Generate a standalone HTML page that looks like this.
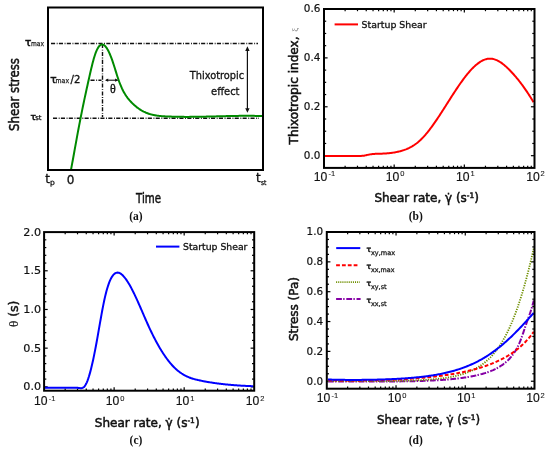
<!DOCTYPE html><html><head><meta charset="utf-8"><style>html,body{margin:0;padding:0;background:#fff;}svg{display:block;}</style></head><body><svg width="550" height="450" viewBox="0 0 550 450">
<style>text{stroke:#111;stroke-width:0.3px;}text.ns{stroke:none;}text.t{stroke-width:0.5px;}</style>
<rect width="550" height="450" fill="#fff"/>
<line x1="51" y1="43.5" x2="258" y2="43.5" stroke="#111" stroke-width="1.4" stroke-dasharray="4.1 1.6 0.9 1.3"/>
<line x1="53" y1="118.3" x2="259" y2="118.3" stroke="#111" stroke-width="1.4" stroke-dasharray="4.1 1.6 0.9 1.3"/>
<line x1="102.5" y1="44" x2="102.5" y2="117" stroke="#111" stroke-width="1.4" stroke-dasharray="4.1 1.6 0.9 1.3"/>
<line x1="90.5" y1="80.2" x2="101.5" y2="80.2" stroke="#111" stroke-width="1.4" stroke-dasharray="4.1 1.6 0.9 1.3"/>
<path d="M70.80,170.71 L71.44,167.34 L72.08,163.92 L72.72,160.46 L73.36,156.96 L74.00,153.45 L74.64,149.92 L75.28,146.39 L75.92,142.87 L76.56,139.36 L77.19,135.88 L77.83,132.44 L78.47,129.03 L79.11,125.67 L79.75,122.34 L80.39,119.05 L81.03,115.80 L81.67,112.59 L82.31,109.42 L82.95,106.29 L83.59,103.20 L84.23,100.16 L84.87,97.15 L85.51,94.17 L86.15,91.23 L86.79,88.31 L87.43,85.42 L88.07,82.55 L88.71,79.70 L89.34,76.87 L89.98,74.06 L90.62,71.28 L91.26,68.56 L91.90,65.91 L92.54,63.35 L93.18,60.91 L93.82,58.60 L94.46,56.45 L95.10,54.47 L95.74,52.68 L96.38,51.08 L97.02,49.66 L97.66,48.43 L98.30,47.37 L98.94,46.49 L99.58,45.78 L100.22,45.23 L100.85,44.84 L101.49,44.61 L102.13,44.53 L102.77,44.60 L103.41,44.81 L104.05,45.17 L104.69,45.66 L105.33,46.29 L105.97,47.04 L106.61,47.92 L107.25,48.91 L107.89,50.03 L108.53,51.25 L109.17,52.58 L109.81,54.02 L110.45,55.55 L111.09,57.17 L111.73,58.89 L112.37,60.68 L113.00,62.56 L113.64,64.51 L114.28,66.51 L114.92,68.55 L115.56,70.61 L116.20,72.66 L116.84,74.69 L117.48,76.69 L118.12,78.62 L118.76,80.47 L119.40,82.23 L120.04,83.90 L120.68,85.48 L121.32,86.97 L121.96,88.38 L122.60,89.71 L123.24,90.97 L123.88,92.15 L124.52,93.28 L125.15,94.34 L125.79,95.34 L126.43,96.29 L127.07,97.19 L127.71,98.05 L128.35,98.86 L128.99,99.64 L129.63,100.39 L130.27,101.10 L130.91,101.79 L131.55,102.46 L132.19,103.11 L132.83,103.74 L133.47,104.35 L134.11,104.93 L134.75,105.50 L135.39,106.05 L136.03,106.58 L136.66,107.10 L137.30,107.59 L137.94,108.07 L138.58,108.53 L139.22,108.97 L139.86,109.39 L140.50,109.80 L141.14,110.19 L141.78,110.57 L142.42,110.93 L143.06,111.27 L143.70,111.60 L144.34,111.91 L144.98,112.21 L145.62,112.50 L146.26,112.77 L146.90,113.02 L147.54,113.27 L148.18,113.50 L148.81,113.72 L149.45,113.93 L150.09,114.12 L150.73,114.31 L151.37,114.48 L152.01,114.65 L152.65,114.80 L153.29,114.95 L153.93,115.08 L154.57,115.21 L155.21,115.33 L155.85,115.44 L156.49,115.54 L157.13,115.63 L157.77,115.72 L158.41,115.80 L159.05,115.88 L159.69,115.95 L160.33,116.01 L160.96,116.07 L161.60,116.13 L162.24,116.18 L162.88,116.22 L163.52,116.26 L164.16,116.30 L164.80,116.34 L165.44,116.38 L166.08,116.41 L166.72,116.44 L167.36,116.47 L168.00,116.50 L168.64,116.53 L169.28,116.55 L169.92,116.58 L170.56,116.60 L171.20,116.62 L171.84,116.65 L172.47,116.67 L173.11,116.69 L173.75,116.71 L174.39,116.72 L175.03,116.74 L175.67,116.76 L176.31,116.77 L176.95,116.78 L177.59,116.80 L178.23,116.81 L178.87,116.82 L179.51,116.83 L180.15,116.84 L180.79,116.85 L181.43,116.85 L182.07,116.86 L182.71,116.86 L183.35,116.87 L183.99,116.87 L184.62,116.88 L185.26,116.88 L185.90,116.88 L186.54,116.88 L187.18,116.88 L187.82,116.88 L188.46,116.88 L189.10,116.88 L189.74,116.87 L190.38,116.87 L191.02,116.87 L191.66,116.86 L192.30,116.86 L192.94,116.85 L193.58,116.84 L194.22,116.84 L194.86,116.83 L195.50,116.82 L196.14,116.81 L196.77,116.80 L197.41,116.80 L198.05,116.79 L198.69,116.77 L199.33,116.76 L199.97,116.75 L200.61,116.74 L201.25,116.73 L201.89,116.72 L202.53,116.70 L203.17,116.69 L203.81,116.68 L204.45,116.66 L205.09,116.65 L205.73,116.63 L206.37,116.62 L207.01,116.60 L207.65,116.59 L208.28,116.57 L208.92,116.56 L209.56,116.54 L210.20,116.53 L210.84,116.51 L211.48,116.49 L212.12,116.48 L212.76,116.46 L213.40,116.44 L214.04,116.43 L214.68,116.41 L215.32,116.39 L215.96,116.38 L216.60,116.36 L217.24,116.34 L217.88,116.33 L218.52,116.31 L219.16,116.29 L219.80,116.27 L220.43,116.26 L221.07,116.24 L221.71,116.22 L222.35,116.21 L222.99,116.19 L223.63,116.18 L224.27,116.16 L224.91,116.14 L225.55,116.13 L226.19,116.11 L226.83,116.10 L227.47,116.08 L228.11,116.07 L228.75,116.05 L229.39,116.04 L230.03,116.02 L230.67,116.01 L231.31,116.00 L231.95,115.98 L232.58,115.97 L233.22,115.96 L233.86,115.95 L234.50,115.94 L235.14,115.93 L235.78,115.91 L236.42,115.90 L237.06,115.90 L237.70,115.89 L238.34,115.88 L238.98,115.87 L239.62,115.86 L240.26,115.85 L240.90,115.85 L241.54,115.84 L242.18,115.84 L242.82,115.83 L243.46,115.83 L244.09,115.82 L244.73,115.82 L245.37,115.82 L246.01,115.82 L246.65,115.82 L247.29,115.82 L247.93,115.82 L248.57,115.82 L249.21,115.82 L249.85,115.82 L250.49,115.83 L251.13,115.83 L251.77,115.84 L252.41,115.84 L253.05,115.85 L253.69,115.86 L254.33,115.87 L254.97,115.88 L255.61,115.89 L256.24,115.90 L256.88,115.91 L257.52,115.92 L258.16,115.94 L258.80,115.95 L259.44,115.97 L260.08,115.99 L260.72,116.01 L261.36,116.03 L262.00,116.05" fill="none" stroke="#008a00" stroke-width="2"/>
<line x1="106" y1="80.2" x2="117.3" y2="80.2" stroke="#111" stroke-width="1.1" />
<path d="M105,80.2 L108.2,78.6 L108.2,81.8 Z M118.3,80.2 L115.1,78.6 L115.1,81.8 Z" fill="#111"/>
<line x1="247.4" y1="49" x2="247.4" y2="110" stroke="#111" stroke-width="1.2" />
<path d="M247.4,46.3 L245.2,51 L249.6,51 Z M247.4,112.8 L245.2,108.3 L249.6,108.3 Z" fill="#111"/>
<rect x="48" y="7.5" width="215" height="162.5" fill="none" stroke="#000" stroke-width="2"/>
<text x="0" y="0" font-size="14.3" font-family="'DejaVu Sans','Liberation Sans',sans-serif" text-anchor="start" fill="#111" class="t" transform="translate(19,131) rotate(-90)" textLength="73" lengthAdjust="spacingAndGlyphs">Shear stress</text>
<text x="136" y="203.2" font-size="13.5" font-family="'DejaVu Sans','Liberation Sans',sans-serif" text-anchor="start" fill="#111" class="t" textLength="25" lengthAdjust="spacingAndGlyphs">Time</text>
<text x="136" y="219.6" font-size="11.5" font-family="'Liberation Serif','DejaVu Serif',serif" text-anchor="middle" fill="#111" font-weight="bold" class="ns">(a)</text>
<text x="25" y="45.9" font-size="10.5" font-family="'DejaVu Sans','Liberation Sans',sans-serif" text-anchor="start" fill="#111" style="stroke-width:0.6px">&#964;</text>
<text x="31" y="45.9" font-size="7" font-family="'DejaVu Sans','Liberation Sans',sans-serif" text-anchor="start" fill="#111" textLength="13" lengthAdjust="spacingAndGlyphs" fill-opacity="0.8">max</text>
<text x="50.2" y="82.5" font-size="10.5" font-family="'DejaVu Sans','Liberation Sans',sans-serif" text-anchor="start" fill="#111" style="stroke-width:0.6px">&#964;</text>
<text x="55.6" y="82.5" font-size="7" font-family="'DejaVu Sans','Liberation Sans',sans-serif" text-anchor="start" fill="#111" textLength="13.5" lengthAdjust="spacingAndGlyphs" fill-opacity="0.8">max</text>
<text x="70.6" y="82.6" font-size="10" font-family="'DejaVu Sans','Liberation Sans',sans-serif" text-anchor="start" fill="#111" textLength="9.8" lengthAdjust="spacingAndGlyphs">/2</text>
<text x="30.5" y="119.6" font-size="9" font-family="'DejaVu Sans','Liberation Sans',sans-serif" text-anchor="start" fill="#111" style="stroke-width:0.6px">&#964;</text>
<text x="35.3" y="119.6" font-size="7" font-family="'DejaVu Sans','Liberation Sans',sans-serif" text-anchor="start" fill="#111" textLength="6.2" lengthAdjust="spacingAndGlyphs">st</text>
<text x="112.8" y="93" font-size="12" font-family="'Liberation Serif','DejaVu Serif',serif" text-anchor="middle" fill="#111" >&#952;</text>
<text x="189.8" y="79.3" font-size="11" font-family="'DejaVu Sans','Liberation Sans',sans-serif" text-anchor="start" fill="#111" textLength="54.4" lengthAdjust="spacingAndGlyphs">Thixotropic</text>
<text x="211.1" y="94.9" font-size="11" font-family="'DejaVu Sans','Liberation Sans',sans-serif" text-anchor="start" fill="#111" textLength="28.4" lengthAdjust="spacingAndGlyphs">effect</text>
<text x="45.3" y="182.5" font-size="12" font-family="'DejaVu Sans','Liberation Sans',sans-serif" text-anchor="start" fill="#111" >t</text>
<text x="50" y="184.5" font-size="7.5" font-family="'DejaVu Sans','Liberation Sans',sans-serif" text-anchor="start" fill="#111" >p</text>
<text x="70.5" y="183.5" font-size="12" font-family="'DejaVu Sans','Liberation Sans',sans-serif" text-anchor="middle" fill="#111" >0</text>
<text x="255.9" y="181.8" font-size="12" font-family="'DejaVu Sans','Liberation Sans',sans-serif" text-anchor="start" fill="#111" >t</text>
<text x="261" y="184.9" font-size="7" font-family="'DejaVu Sans','Liberation Sans',sans-serif" text-anchor="start" fill="#111" textLength="5.4" lengthAdjust="spacingAndGlyphs">st</text>
<line x1="345.12" y1="167.9" x2="345.12" y2="165.7" stroke="#000" stroke-width="1.2" />
<line x1="345.12" y1="9" x2="345.12" y2="11.2" stroke="#000" stroke-width="1.2" />
<line x1="357.48" y1="167.9" x2="357.48" y2="165.7" stroke="#000" stroke-width="1.2" />
<line x1="357.48" y1="9" x2="357.48" y2="11.2" stroke="#000" stroke-width="1.2" />
<line x1="366.24" y1="167.9" x2="366.24" y2="165.7" stroke="#000" stroke-width="1.2" />
<line x1="366.24" y1="9" x2="366.24" y2="11.2" stroke="#000" stroke-width="1.2" />
<line x1="373.04" y1="167.9" x2="373.04" y2="165.7" stroke="#000" stroke-width="1.2" />
<line x1="373.04" y1="9" x2="373.04" y2="11.2" stroke="#000" stroke-width="1.2" />
<line x1="378.6" y1="167.9" x2="378.6" y2="165.7" stroke="#000" stroke-width="1.2" />
<line x1="378.6" y1="9" x2="378.6" y2="11.2" stroke="#000" stroke-width="1.2" />
<line x1="383.3" y1="167.9" x2="383.3" y2="165.7" stroke="#000" stroke-width="1.2" />
<line x1="383.3" y1="9" x2="383.3" y2="11.2" stroke="#000" stroke-width="1.2" />
<line x1="387.37" y1="167.9" x2="387.37" y2="165.7" stroke="#000" stroke-width="1.2" />
<line x1="387.37" y1="9" x2="387.37" y2="11.2" stroke="#000" stroke-width="1.2" />
<line x1="390.96" y1="167.9" x2="390.96" y2="165.7" stroke="#000" stroke-width="1.2" />
<line x1="390.96" y1="9" x2="390.96" y2="11.2" stroke="#000" stroke-width="1.2" />
<line x1="394.17" y1="167.9" x2="394.17" y2="164.5" stroke="#000" stroke-width="1.2" />
<line x1="394.17" y1="9" x2="394.17" y2="12.4" stroke="#000" stroke-width="1.2" />
<line x1="415.29" y1="167.9" x2="415.29" y2="165.7" stroke="#000" stroke-width="1.2" />
<line x1="415.29" y1="9" x2="415.29" y2="11.2" stroke="#000" stroke-width="1.2" />
<line x1="427.64" y1="167.9" x2="427.64" y2="165.7" stroke="#000" stroke-width="1.2" />
<line x1="427.64" y1="9" x2="427.64" y2="11.2" stroke="#000" stroke-width="1.2" />
<line x1="436.41" y1="167.9" x2="436.41" y2="165.7" stroke="#000" stroke-width="1.2" />
<line x1="436.41" y1="9" x2="436.41" y2="11.2" stroke="#000" stroke-width="1.2" />
<line x1="443.21" y1="167.9" x2="443.21" y2="165.7" stroke="#000" stroke-width="1.2" />
<line x1="443.21" y1="9" x2="443.21" y2="11.2" stroke="#000" stroke-width="1.2" />
<line x1="448.77" y1="167.9" x2="448.77" y2="165.7" stroke="#000" stroke-width="1.2" />
<line x1="448.77" y1="9" x2="448.77" y2="11.2" stroke="#000" stroke-width="1.2" />
<line x1="453.46" y1="167.9" x2="453.46" y2="165.7" stroke="#000" stroke-width="1.2" />
<line x1="453.46" y1="9" x2="453.46" y2="11.2" stroke="#000" stroke-width="1.2" />
<line x1="457.53" y1="167.9" x2="457.53" y2="165.7" stroke="#000" stroke-width="1.2" />
<line x1="457.53" y1="9" x2="457.53" y2="11.2" stroke="#000" stroke-width="1.2" />
<line x1="461.12" y1="167.9" x2="461.12" y2="165.7" stroke="#000" stroke-width="1.2" />
<line x1="461.12" y1="9" x2="461.12" y2="11.2" stroke="#000" stroke-width="1.2" />
<line x1="464.33" y1="167.9" x2="464.33" y2="164.5" stroke="#000" stroke-width="1.2" />
<line x1="464.33" y1="9" x2="464.33" y2="12.4" stroke="#000" stroke-width="1.2" />
<line x1="485.46" y1="167.9" x2="485.46" y2="165.7" stroke="#000" stroke-width="1.2" />
<line x1="485.46" y1="9" x2="485.46" y2="11.2" stroke="#000" stroke-width="1.2" />
<line x1="497.81" y1="167.9" x2="497.81" y2="165.7" stroke="#000" stroke-width="1.2" />
<line x1="497.81" y1="9" x2="497.81" y2="11.2" stroke="#000" stroke-width="1.2" />
<line x1="506.58" y1="167.9" x2="506.58" y2="165.7" stroke="#000" stroke-width="1.2" />
<line x1="506.58" y1="9" x2="506.58" y2="11.2" stroke="#000" stroke-width="1.2" />
<line x1="513.38" y1="167.9" x2="513.38" y2="165.7" stroke="#000" stroke-width="1.2" />
<line x1="513.38" y1="9" x2="513.38" y2="11.2" stroke="#000" stroke-width="1.2" />
<line x1="518.93" y1="167.9" x2="518.93" y2="165.7" stroke="#000" stroke-width="1.2" />
<line x1="518.93" y1="9" x2="518.93" y2="11.2" stroke="#000" stroke-width="1.2" />
<line x1="523.63" y1="167.9" x2="523.63" y2="165.7" stroke="#000" stroke-width="1.2" />
<line x1="523.63" y1="9" x2="523.63" y2="11.2" stroke="#000" stroke-width="1.2" />
<line x1="527.7" y1="167.9" x2="527.7" y2="165.7" stroke="#000" stroke-width="1.2" />
<line x1="527.7" y1="9" x2="527.7" y2="11.2" stroke="#000" stroke-width="1.2" />
<line x1="531.29" y1="167.9" x2="531.29" y2="165.7" stroke="#000" stroke-width="1.2" />
<line x1="531.29" y1="9" x2="531.29" y2="11.2" stroke="#000" stroke-width="1.2" />
<line x1="324" y1="155.68" x2="327.6" y2="155.68" stroke="#000" stroke-width="1.2" />
<line x1="534.5" y1="155.68" x2="530.9" y2="155.68" stroke="#000" stroke-width="1.2" />
<line x1="324" y1="143.45" x2="326.2" y2="143.45" stroke="#000" stroke-width="1.2" />
<line x1="534.5" y1="143.45" x2="532.3" y2="143.45" stroke="#000" stroke-width="1.2" />
<line x1="324" y1="131.23" x2="326.2" y2="131.23" stroke="#000" stroke-width="1.2" />
<line x1="534.5" y1="131.23" x2="532.3" y2="131.23" stroke="#000" stroke-width="1.2" />
<line x1="324" y1="119.01" x2="326.2" y2="119.01" stroke="#000" stroke-width="1.2" />
<line x1="534.5" y1="119.01" x2="532.3" y2="119.01" stroke="#000" stroke-width="1.2" />
<line x1="324" y1="106.78" x2="327.6" y2="106.78" stroke="#000" stroke-width="1.2" />
<line x1="534.5" y1="106.78" x2="530.9" y2="106.78" stroke="#000" stroke-width="1.2" />
<line x1="324" y1="94.56" x2="326.2" y2="94.56" stroke="#000" stroke-width="1.2" />
<line x1="534.5" y1="94.56" x2="532.3" y2="94.56" stroke="#000" stroke-width="1.2" />
<line x1="324" y1="82.34" x2="326.2" y2="82.34" stroke="#000" stroke-width="1.2" />
<line x1="534.5" y1="82.34" x2="532.3" y2="82.34" stroke="#000" stroke-width="1.2" />
<line x1="324" y1="70.12" x2="326.2" y2="70.12" stroke="#000" stroke-width="1.2" />
<line x1="534.5" y1="70.12" x2="532.3" y2="70.12" stroke="#000" stroke-width="1.2" />
<line x1="324" y1="57.89" x2="327.6" y2="57.89" stroke="#000" stroke-width="1.2" />
<line x1="534.5" y1="57.89" x2="530.9" y2="57.89" stroke="#000" stroke-width="1.2" />
<line x1="324" y1="45.67" x2="326.2" y2="45.67" stroke="#000" stroke-width="1.2" />
<line x1="534.5" y1="45.67" x2="532.3" y2="45.67" stroke="#000" stroke-width="1.2" />
<line x1="324" y1="33.45" x2="326.2" y2="33.45" stroke="#000" stroke-width="1.2" />
<line x1="534.5" y1="33.45" x2="532.3" y2="33.45" stroke="#000" stroke-width="1.2" />
<line x1="324" y1="21.22" x2="326.2" y2="21.22" stroke="#000" stroke-width="1.2" />
<line x1="534.5" y1="21.22" x2="532.3" y2="21.22" stroke="#000" stroke-width="1.2" />
<path d="M325.00,155.90 L325.70,155.90 L326.39,155.90 L327.09,155.90 L327.79,155.90 L328.49,155.90 L329.18,155.90 L329.88,155.90 L330.58,155.90 L331.28,155.90 L331.97,155.90 L332.67,155.90 L333.37,155.90 L334.07,155.90 L334.76,155.90 L335.46,155.90 L336.16,155.90 L336.85,155.90 L337.55,155.90 L338.25,155.90 L338.95,155.90 L339.64,155.90 L340.34,155.90 L341.04,155.90 L341.74,155.90 L342.43,155.90 L343.13,155.90 L343.83,155.90 L344.53,155.90 L345.22,155.90 L345.92,155.90 L346.62,155.90 L347.31,155.90 L348.01,155.90 L348.71,155.90 L349.41,155.90 L350.10,155.90 L350.80,155.90 L351.50,155.90 L352.20,155.90 L352.89,155.90 L353.59,155.90 L354.29,155.90 L354.98,155.90 L355.68,155.90 L356.38,155.90 L357.08,155.90 L357.77,155.90 L358.47,155.90 L359.17,155.90 L359.87,155.91 L360.56,155.90 L361.26,155.89 L361.96,155.86 L362.66,155.82 L363.35,155.75 L364.05,155.65 L364.75,155.52 L365.44,155.38 L366.14,155.22 L366.84,155.05 L367.54,154.89 L368.23,154.75 L368.93,154.62 L369.63,154.49 L370.33,154.38 L371.02,154.27 L371.72,154.17 L372.42,154.08 L373.12,154.00 L373.81,153.94 L374.51,153.89 L375.21,153.85 L375.90,153.81 L376.60,153.78 L377.30,153.76 L378.00,153.74 L378.69,153.72 L379.39,153.71 L380.09,153.69 L380.79,153.68 L381.48,153.66 L382.18,153.64 L382.88,153.61 L383.58,153.58 L384.27,153.55 L384.97,153.51 L385.67,153.46 L386.36,153.42 L387.06,153.36 L387.76,153.30 L388.46,153.24 L389.15,153.17 L389.85,153.09 L390.55,153.01 L391.25,152.92 L391.94,152.83 L392.64,152.73 L393.34,152.62 L394.04,152.51 L394.73,152.39 L395.43,152.26 L396.13,152.13 L396.82,151.99 L397.52,151.84 L398.22,151.68 L398.92,151.52 L399.61,151.35 L400.31,151.17 L401.01,150.98 L401.71,150.79 L402.40,150.58 L403.10,150.36 L403.80,150.13 L404.49,149.89 L405.19,149.63 L405.89,149.37 L406.59,149.09 L407.28,148.79 L407.98,148.49 L408.68,148.16 L409.38,147.83 L410.07,147.47 L410.77,147.11 L411.47,146.72 L412.17,146.32 L412.86,145.89 L413.56,145.46 L414.26,145.00 L414.95,144.52 L415.65,144.02 L416.35,143.51 L417.05,142.97 L417.74,142.41 L418.44,141.83 L419.14,141.22 L419.84,140.60 L420.53,139.95 L421.23,139.27 L421.93,138.58 L422.63,137.86 L423.32,137.12 L424.02,136.36 L424.72,135.58 L425.41,134.78 L426.11,133.97 L426.81,133.13 L427.51,132.28 L428.20,131.41 L428.90,130.52 L429.60,129.62 L430.30,128.70 L430.99,127.77 L431.69,126.83 L432.39,125.87 L433.09,124.90 L433.78,123.91 L434.48,122.92 L435.18,121.91 L435.87,120.90 L436.57,119.87 L437.27,118.83 L437.97,117.79 L438.66,116.74 L439.36,115.68 L440.06,114.62 L440.76,113.54 L441.45,112.47 L442.15,111.39 L442.85,110.30 L443.55,109.21 L444.24,108.12 L444.94,107.02 L445.64,105.93 L446.33,104.83 L447.03,103.73 L447.73,102.63 L448.43,101.53 L449.12,100.44 L449.82,99.34 L450.52,98.25 L451.22,97.16 L451.91,96.07 L452.61,94.99 L453.31,93.91 L454.01,92.84 L454.70,91.77 L455.40,90.71 L456.10,89.66 L456.79,88.61 L457.49,87.57 L458.19,86.54 L458.89,85.52 L459.58,84.51 L460.28,83.51 L460.98,82.52 L461.68,81.55 L462.37,80.58 L463.07,79.63 L463.77,78.69 L464.46,77.76 L465.16,76.85 L465.86,75.96 L466.56,75.08 L467.25,74.21 L467.95,73.37 L468.65,72.54 L469.35,71.73 L470.04,70.93 L470.74,70.16 L471.44,69.41 L472.14,68.67 L472.83,67.96 L473.53,67.27 L474.23,66.60 L474.92,65.95 L475.62,65.33 L476.32,64.73 L477.02,64.15 L477.71,63.60 L478.41,63.08 L479.11,62.58 L479.81,62.11 L480.50,61.66 L481.20,61.25 L481.90,60.86 L482.60,60.50 L483.29,60.17 L483.99,59.87 L484.69,59.60 L485.38,59.37 L486.08,59.16 L486.78,58.99 L487.48,58.85 L488.17,58.74 L488.87,58.67 L489.57,58.63 L490.27,58.63 L490.96,58.67 L491.66,58.74 L492.36,58.84 L493.06,58.97 L493.75,59.14 L494.45,59.34 L495.15,59.57 L495.84,59.84 L496.54,60.13 L497.24,60.45 L497.94,60.79 L498.63,61.17 L499.33,61.57 L500.03,62.00 L500.73,62.45 L501.42,62.92 L502.12,63.42 L502.82,63.95 L503.52,64.49 L504.21,65.06 L504.91,65.64 L505.61,66.25 L506.30,66.87 L507.00,67.51 L507.70,68.17 L508.40,68.85 L509.09,69.54 L509.79,70.25 L510.49,70.97 L511.19,71.70 L511.88,72.45 L512.58,73.21 L513.28,73.98 L513.97,74.76 L514.67,75.56 L515.37,76.37 L516.07,77.19 L516.76,78.02 L517.46,78.87 L518.16,79.73 L518.86,80.60 L519.55,81.49 L520.25,82.39 L520.95,83.30 L521.65,84.23 L522.34,85.17 L523.04,86.12 L523.74,87.09 L524.43,88.07 L525.13,89.07 L525.83,90.08 L526.53,91.11 L527.22,92.14 L527.92,93.20 L528.62,94.27 L529.32,95.35 L530.01,96.45 L530.71,97.57 L531.41,98.70 L532.11,99.84 L532.80,101.00 L533.50,102.18" fill="none" stroke="#ff0000" stroke-width="2"/>
<line x1="334.6" y1="24.4" x2="358" y2="24.4" stroke="#ff0000" stroke-width="2" />
<text x="361.6" y="28" font-size="9.2" font-family="'DejaVu Sans','Liberation Sans',sans-serif" text-anchor="start" fill="#111" textLength="65" lengthAdjust="spacingAndGlyphs">Startup Shear</text>
<rect x="324" y="9" width="210.5" height="158.9" fill="none" stroke="#000" stroke-width="2"/>
<text x="327.4" y="180.7" font-size="12.2" font-family="'Liberation Sans',Arial,sans-serif" text-anchor="end" fill="#111" style="stroke-width:0.15px">10</text>
<text x="328.6" y="176.1" font-size="7.5" font-family="'Liberation Sans',Arial,sans-serif" fill="#222" style="stroke-width:0.1px">-1</text>
<text x="399.37" y="180.7" font-size="12.2" font-family="'Liberation Sans',Arial,sans-serif" text-anchor="end" fill="#111" style="stroke-width:0.15px">10</text>
<text x="400.27" y="176.1" font-size="7.5" font-family="'Liberation Sans',Arial,sans-serif" fill="#222" style="stroke-width:0.1px">0</text>
<text x="469.53" y="180.7" font-size="12.2" font-family="'Liberation Sans',Arial,sans-serif" text-anchor="end" fill="#111" style="stroke-width:0.15px">10</text>
<text x="470.43" y="176.1" font-size="7.5" font-family="'Liberation Sans',Arial,sans-serif" fill="#222" style="stroke-width:0.1px">1</text>
<text x="539.7" y="180.7" font-size="12.2" font-family="'Liberation Sans',Arial,sans-serif" text-anchor="end" fill="#111" style="stroke-width:0.15px">10</text>
<text x="540.6" y="176.1" font-size="7.5" font-family="'Liberation Sans',Arial,sans-serif" fill="#222" style="stroke-width:0.1px">2</text>
<text x="320.3" y="158.98" font-size="10.4" font-family="'DejaVu Sans','Liberation Sans',sans-serif" text-anchor="end" fill="#111" style="stroke-width:0.2px">0.0</text>
<text x="320.3" y="110.08" font-size="10.4" font-family="'DejaVu Sans','Liberation Sans',sans-serif" text-anchor="end" fill="#111" style="stroke-width:0.2px">0.2</text>
<text x="320.3" y="61.19" font-size="10.4" font-family="'DejaVu Sans','Liberation Sans',sans-serif" text-anchor="end" fill="#111" style="stroke-width:0.2px">0.4</text>
<text x="320.3" y="12.3" font-size="10.4" font-family="'DejaVu Sans','Liberation Sans',sans-serif" text-anchor="end" fill="#111" style="stroke-width:0.2px">0.6</text>
<text class="t" x="374.4" y="202.4" font-size="12" font-family="'DejaVu Sans','Liberation Sans',sans-serif" fill="#111" textLength="104.6" lengthAdjust="spacingAndGlyphs">Shear rate, &#947;&#775; (s<tspan dy="-4.5" font-size="7.5">-1</tspan><tspan dy="4.5">)</tspan></text>
<text x="415.7" y="219.6" font-size="11.5" font-family="'Liberation Serif','DejaVu Serif',serif" text-anchor="middle" fill="#111" font-weight="bold" class="ns">(b)</text>
<text x="0" y="0" font-size="11.5" font-family="'DejaVu Sans','Liberation Sans',sans-serif" text-anchor="start" fill="#111" class="t" transform="translate(298.4,144.4) rotate(-90)" textLength="108" lengthAdjust="spacingAndGlyphs">Thixotropic index,</text>
<text x="0" y="0" font-size="9" font-family="'Liberation Serif','DejaVu Serif',serif" text-anchor="start" fill="#111" class="ns" fill-opacity="0.6" transform="translate(297.5,31.8) rotate(-90)">&#958;</text>
<line x1="65.18" y1="390.7" x2="65.18" y2="388.5" stroke="#000" stroke-width="1.2" />
<line x1="65.18" y1="232.1" x2="65.18" y2="234.3" stroke="#000" stroke-width="1.2" />
<line x1="77.51" y1="390.7" x2="77.51" y2="388.5" stroke="#000" stroke-width="1.2" />
<line x1="77.51" y1="232.1" x2="77.51" y2="234.3" stroke="#000" stroke-width="1.2" />
<line x1="86.26" y1="390.7" x2="86.26" y2="388.5" stroke="#000" stroke-width="1.2" />
<line x1="86.26" y1="232.1" x2="86.26" y2="234.3" stroke="#000" stroke-width="1.2" />
<line x1="93.05" y1="390.7" x2="93.05" y2="388.5" stroke="#000" stroke-width="1.2" />
<line x1="93.05" y1="232.1" x2="93.05" y2="234.3" stroke="#000" stroke-width="1.2" />
<line x1="98.6" y1="390.7" x2="98.6" y2="388.5" stroke="#000" stroke-width="1.2" />
<line x1="98.6" y1="232.1" x2="98.6" y2="234.3" stroke="#000" stroke-width="1.2" />
<line x1="103.29" y1="390.7" x2="103.29" y2="388.5" stroke="#000" stroke-width="1.2" />
<line x1="103.29" y1="232.1" x2="103.29" y2="234.3" stroke="#000" stroke-width="1.2" />
<line x1="107.35" y1="390.7" x2="107.35" y2="388.5" stroke="#000" stroke-width="1.2" />
<line x1="107.35" y1="232.1" x2="107.35" y2="234.3" stroke="#000" stroke-width="1.2" />
<line x1="110.93" y1="390.7" x2="110.93" y2="388.5" stroke="#000" stroke-width="1.2" />
<line x1="110.93" y1="232.1" x2="110.93" y2="234.3" stroke="#000" stroke-width="1.2" />
<line x1="114.13" y1="390.7" x2="114.13" y2="387.3" stroke="#000" stroke-width="1.2" />
<line x1="114.13" y1="232.1" x2="114.13" y2="235.5" stroke="#000" stroke-width="1.2" />
<line x1="135.22" y1="390.7" x2="135.22" y2="388.5" stroke="#000" stroke-width="1.2" />
<line x1="135.22" y1="232.1" x2="135.22" y2="234.3" stroke="#000" stroke-width="1.2" />
<line x1="147.55" y1="390.7" x2="147.55" y2="388.5" stroke="#000" stroke-width="1.2" />
<line x1="147.55" y1="232.1" x2="147.55" y2="234.3" stroke="#000" stroke-width="1.2" />
<line x1="156.3" y1="390.7" x2="156.3" y2="388.5" stroke="#000" stroke-width="1.2" />
<line x1="156.3" y1="232.1" x2="156.3" y2="234.3" stroke="#000" stroke-width="1.2" />
<line x1="163.08" y1="390.7" x2="163.08" y2="388.5" stroke="#000" stroke-width="1.2" />
<line x1="163.08" y1="232.1" x2="163.08" y2="234.3" stroke="#000" stroke-width="1.2" />
<line x1="168.63" y1="390.7" x2="168.63" y2="388.5" stroke="#000" stroke-width="1.2" />
<line x1="168.63" y1="232.1" x2="168.63" y2="234.3" stroke="#000" stroke-width="1.2" />
<line x1="173.32" y1="390.7" x2="173.32" y2="388.5" stroke="#000" stroke-width="1.2" />
<line x1="173.32" y1="232.1" x2="173.32" y2="234.3" stroke="#000" stroke-width="1.2" />
<line x1="177.38" y1="390.7" x2="177.38" y2="388.5" stroke="#000" stroke-width="1.2" />
<line x1="177.38" y1="232.1" x2="177.38" y2="234.3" stroke="#000" stroke-width="1.2" />
<line x1="180.96" y1="390.7" x2="180.96" y2="388.5" stroke="#000" stroke-width="1.2" />
<line x1="180.96" y1="232.1" x2="180.96" y2="234.3" stroke="#000" stroke-width="1.2" />
<line x1="184.17" y1="390.7" x2="184.17" y2="387.3" stroke="#000" stroke-width="1.2" />
<line x1="184.17" y1="232.1" x2="184.17" y2="235.5" stroke="#000" stroke-width="1.2" />
<line x1="205.25" y1="390.7" x2="205.25" y2="388.5" stroke="#000" stroke-width="1.2" />
<line x1="205.25" y1="232.1" x2="205.25" y2="234.3" stroke="#000" stroke-width="1.2" />
<line x1="217.58" y1="390.7" x2="217.58" y2="388.5" stroke="#000" stroke-width="1.2" />
<line x1="217.58" y1="232.1" x2="217.58" y2="234.3" stroke="#000" stroke-width="1.2" />
<line x1="226.33" y1="390.7" x2="226.33" y2="388.5" stroke="#000" stroke-width="1.2" />
<line x1="226.33" y1="232.1" x2="226.33" y2="234.3" stroke="#000" stroke-width="1.2" />
<line x1="233.12" y1="390.7" x2="233.12" y2="388.5" stroke="#000" stroke-width="1.2" />
<line x1="233.12" y1="232.1" x2="233.12" y2="234.3" stroke="#000" stroke-width="1.2" />
<line x1="238.66" y1="390.7" x2="238.66" y2="388.5" stroke="#000" stroke-width="1.2" />
<line x1="238.66" y1="232.1" x2="238.66" y2="234.3" stroke="#000" stroke-width="1.2" />
<line x1="243.35" y1="390.7" x2="243.35" y2="388.5" stroke="#000" stroke-width="1.2" />
<line x1="243.35" y1="232.1" x2="243.35" y2="234.3" stroke="#000" stroke-width="1.2" />
<line x1="247.41" y1="390.7" x2="247.41" y2="388.5" stroke="#000" stroke-width="1.2" />
<line x1="247.41" y1="232.1" x2="247.41" y2="234.3" stroke="#000" stroke-width="1.2" />
<line x1="251" y1="390.7" x2="251" y2="388.5" stroke="#000" stroke-width="1.2" />
<line x1="251" y1="232.1" x2="251" y2="234.3" stroke="#000" stroke-width="1.2" />
<line x1="44.1" y1="386.83" x2="47.7" y2="386.83" stroke="#000" stroke-width="1.2" />
<line x1="254.2" y1="386.83" x2="250.6" y2="386.83" stroke="#000" stroke-width="1.2" />
<line x1="44.1" y1="379.1" x2="46.3" y2="379.1" stroke="#000" stroke-width="1.2" />
<line x1="254.2" y1="379.1" x2="252" y2="379.1" stroke="#000" stroke-width="1.2" />
<line x1="44.1" y1="371.36" x2="46.3" y2="371.36" stroke="#000" stroke-width="1.2" />
<line x1="254.2" y1="371.36" x2="252" y2="371.36" stroke="#000" stroke-width="1.2" />
<line x1="44.1" y1="363.62" x2="46.3" y2="363.62" stroke="#000" stroke-width="1.2" />
<line x1="254.2" y1="363.62" x2="252" y2="363.62" stroke="#000" stroke-width="1.2" />
<line x1="44.1" y1="355.89" x2="46.3" y2="355.89" stroke="#000" stroke-width="1.2" />
<line x1="254.2" y1="355.89" x2="252" y2="355.89" stroke="#000" stroke-width="1.2" />
<line x1="44.1" y1="348.15" x2="47.7" y2="348.15" stroke="#000" stroke-width="1.2" />
<line x1="254.2" y1="348.15" x2="250.6" y2="348.15" stroke="#000" stroke-width="1.2" />
<line x1="44.1" y1="340.41" x2="46.3" y2="340.41" stroke="#000" stroke-width="1.2" />
<line x1="254.2" y1="340.41" x2="252" y2="340.41" stroke="#000" stroke-width="1.2" />
<line x1="44.1" y1="332.68" x2="46.3" y2="332.68" stroke="#000" stroke-width="1.2" />
<line x1="254.2" y1="332.68" x2="252" y2="332.68" stroke="#000" stroke-width="1.2" />
<line x1="44.1" y1="324.94" x2="46.3" y2="324.94" stroke="#000" stroke-width="1.2" />
<line x1="254.2" y1="324.94" x2="252" y2="324.94" stroke="#000" stroke-width="1.2" />
<line x1="44.1" y1="317.2" x2="46.3" y2="317.2" stroke="#000" stroke-width="1.2" />
<line x1="254.2" y1="317.2" x2="252" y2="317.2" stroke="#000" stroke-width="1.2" />
<line x1="44.1" y1="309.47" x2="47.7" y2="309.47" stroke="#000" stroke-width="1.2" />
<line x1="254.2" y1="309.47" x2="250.6" y2="309.47" stroke="#000" stroke-width="1.2" />
<line x1="44.1" y1="301.73" x2="46.3" y2="301.73" stroke="#000" stroke-width="1.2" />
<line x1="254.2" y1="301.73" x2="252" y2="301.73" stroke="#000" stroke-width="1.2" />
<line x1="44.1" y1="293.99" x2="46.3" y2="293.99" stroke="#000" stroke-width="1.2" />
<line x1="254.2" y1="293.99" x2="252" y2="293.99" stroke="#000" stroke-width="1.2" />
<line x1="44.1" y1="286.26" x2="46.3" y2="286.26" stroke="#000" stroke-width="1.2" />
<line x1="254.2" y1="286.26" x2="252" y2="286.26" stroke="#000" stroke-width="1.2" />
<line x1="44.1" y1="278.52" x2="46.3" y2="278.52" stroke="#000" stroke-width="1.2" />
<line x1="254.2" y1="278.52" x2="252" y2="278.52" stroke="#000" stroke-width="1.2" />
<line x1="44.1" y1="270.78" x2="47.7" y2="270.78" stroke="#000" stroke-width="1.2" />
<line x1="254.2" y1="270.78" x2="250.6" y2="270.78" stroke="#000" stroke-width="1.2" />
<line x1="44.1" y1="263.05" x2="46.3" y2="263.05" stroke="#000" stroke-width="1.2" />
<line x1="254.2" y1="263.05" x2="252" y2="263.05" stroke="#000" stroke-width="1.2" />
<line x1="44.1" y1="255.31" x2="46.3" y2="255.31" stroke="#000" stroke-width="1.2" />
<line x1="254.2" y1="255.31" x2="252" y2="255.31" stroke="#000" stroke-width="1.2" />
<line x1="44.1" y1="247.57" x2="46.3" y2="247.57" stroke="#000" stroke-width="1.2" />
<line x1="254.2" y1="247.57" x2="252" y2="247.57" stroke="#000" stroke-width="1.2" />
<line x1="44.1" y1="239.84" x2="46.3" y2="239.84" stroke="#000" stroke-width="1.2" />
<line x1="254.2" y1="239.84" x2="252" y2="239.84" stroke="#000" stroke-width="1.2" />
<path d="M45.00,387.81 L45.70,387.81 L46.39,387.80 L47.09,387.80 L47.79,387.79 L48.49,387.79 L49.18,387.79 L49.88,387.79 L50.58,387.79 L51.28,387.79 L51.97,387.79 L52.67,387.79 L53.37,387.80 L54.07,387.80 L54.76,387.80 L55.46,387.80 L56.16,387.81 L56.85,387.81 L57.55,387.81 L58.25,387.81 L58.95,387.82 L59.64,387.82 L60.34,387.82 L61.04,387.82 L61.74,387.82 L62.43,387.82 L63.13,387.82 L63.83,387.82 L64.53,387.81 L65.22,387.81 L65.92,387.80 L66.62,387.80 L67.31,387.79 L68.01,387.78 L68.71,387.77 L69.41,387.76 L70.10,387.75 L70.80,387.73 L71.50,387.72 L72.20,387.70 L72.89,387.68 L73.59,387.67 L74.29,387.67 L74.98,387.67 L75.68,387.68 L76.38,387.71 L77.08,387.76 L77.77,387.82 L78.47,387.91 L79.17,388.02 L79.87,388.12 L80.56,388.18 L81.26,388.18 L81.96,388.09 L82.66,387.86 L83.35,387.48 L84.05,386.91 L84.75,386.12 L85.44,385.08 L86.14,383.81 L86.84,382.31 L87.54,380.58 L88.23,378.64 L88.93,376.50 L89.63,374.16 L90.33,371.64 L91.02,368.95 L91.72,366.09 L92.42,363.07 L93.12,359.91 L93.81,356.61 L94.51,353.17 L95.21,349.62 L95.90,345.96 L96.60,342.20 L97.30,338.35 L98.00,334.42 L98.69,330.44 L99.39,326.43 L100.09,322.44 L100.79,318.47 L101.48,314.58 L102.18,310.78 L102.88,307.11 L103.58,303.59 L104.27,300.26 L104.97,297.14 L105.67,294.23 L106.36,291.53 L107.06,289.02 L107.76,286.72 L108.46,284.61 L109.15,282.69 L109.85,280.96 L110.55,279.41 L111.25,278.03 L111.94,276.83 L112.64,275.79 L113.34,274.91 L114.04,274.18 L114.73,273.59 L115.43,273.15 L116.13,272.84 L116.82,272.66 L117.52,272.60 L118.22,272.66 L118.92,272.83 L119.61,273.10 L120.31,273.46 L121.01,273.92 L121.71,274.46 L122.40,275.08 L123.10,275.78 L123.80,276.54 L124.49,277.36 L125.19,278.24 L125.89,279.17 L126.59,280.16 L127.28,281.20 L127.98,282.29 L128.68,283.42 L129.38,284.60 L130.07,285.82 L130.77,287.09 L131.47,288.39 L132.17,289.72 L132.86,291.09 L133.56,292.50 L134.26,293.93 L134.95,295.39 L135.65,296.87 L136.35,298.37 L137.05,299.90 L137.74,301.44 L138.44,303.00 L139.14,304.58 L139.84,306.16 L140.53,307.76 L141.23,309.36 L141.93,310.96 L142.63,312.57 L143.32,314.18 L144.02,315.79 L144.72,317.39 L145.41,318.99 L146.11,320.58 L146.81,322.16 L147.51,323.73 L148.20,325.28 L148.90,326.81 L149.60,328.33 L150.30,329.82 L150.99,331.29 L151.69,332.74 L152.39,334.17 L153.09,335.58 L153.78,336.96 L154.48,338.32 L155.18,339.66 L155.87,340.98 L156.57,342.27 L157.27,343.55 L157.97,344.80 L158.66,346.03 L159.36,347.23 L160.06,348.42 L160.76,349.58 L161.45,350.71 L162.15,351.83 L162.85,352.92 L163.55,353.99 L164.24,355.03 L164.94,356.06 L165.64,357.06 L166.33,358.03 L167.03,358.98 L167.73,359.91 L168.43,360.82 L169.12,361.70 L169.82,362.56 L170.52,363.39 L171.22,364.21 L171.91,364.99 L172.61,365.75 L173.31,366.49 L174.01,367.21 L174.70,367.90 L175.40,368.57 L176.10,369.21 L176.79,369.83 L177.49,370.42 L178.19,370.99 L178.89,371.54 L179.58,372.06 L180.28,372.57 L180.98,373.05 L181.68,373.52 L182.37,373.96 L183.07,374.39 L183.77,374.79 L184.46,375.18 L185.16,375.55 L185.86,375.91 L186.56,376.25 L187.25,376.57 L187.95,376.88 L188.65,377.18 L189.35,377.46 L190.04,377.72 L190.74,377.98 L191.44,378.22 L192.14,378.46 L192.83,378.68 L193.53,378.89 L194.23,379.09 L194.92,379.29 L195.62,379.47 L196.32,379.65 L197.02,379.82 L197.71,379.99 L198.41,380.15 L199.11,380.30 L199.81,380.45 L200.50,380.60 L201.20,380.74 L201.90,380.88 L202.60,381.01 L203.29,381.15 L203.99,381.28 L204.69,381.41 L205.38,381.54 L206.08,381.66 L206.78,381.79 L207.48,381.91 L208.17,382.03 L208.87,382.15 L209.57,382.26 L210.27,382.38 L210.96,382.49 L211.66,382.60 L212.36,382.71 L213.06,382.81 L213.75,382.91 L214.45,383.02 L215.15,383.12 L215.84,383.22 L216.54,383.31 L217.24,383.41 L217.94,383.50 L218.63,383.59 L219.33,383.68 L220.03,383.77 L220.73,383.85 L221.42,383.94 L222.12,384.02 L222.82,384.10 L223.52,384.18 L224.21,384.25 L224.91,384.33 L225.61,384.40 L226.30,384.47 L227.00,384.55 L227.70,384.61 L228.40,384.68 L229.09,384.75 L229.79,384.81 L230.49,384.87 L231.19,384.94 L231.88,385.00 L232.58,385.05 L233.28,385.11 L233.97,385.17 L234.67,385.22 L235.37,385.27 L236.07,385.32 L236.76,385.37 L237.46,385.42 L238.16,385.47 L238.86,385.51 L239.55,385.56 L240.25,385.60 L240.95,385.64 L241.65,385.69 L242.34,385.72 L243.04,385.76 L243.74,385.80 L244.43,385.84 L245.13,385.87 L245.83,385.90 L246.53,385.94 L247.22,385.97 L247.92,386.00 L248.62,386.03 L249.32,386.06 L250.01,386.08 L250.71,386.11 L251.41,386.13 L252.11,386.16 L252.80,386.18 L253.50,386.20" fill="none" stroke="#0000ff" stroke-width="2"/>
<line x1="156" y1="246.6" x2="179.4" y2="246.6" stroke="#0000ff" stroke-width="2" />
<text x="183" y="250.4" font-size="9.2" font-family="'DejaVu Sans','Liberation Sans',sans-serif" text-anchor="start" fill="#111" textLength="64.4" lengthAdjust="spacingAndGlyphs">Startup Shear</text>
<rect x="44.1" y="232.1" width="210.1" height="158.6" fill="none" stroke="#000" stroke-width="2"/>
<text x="47.5" y="405.3" font-size="12.2" font-family="'Liberation Sans',Arial,sans-serif" text-anchor="end" fill="#111" style="stroke-width:0.15px">10</text>
<text x="48.7" y="400.7" font-size="7.5" font-family="'Liberation Sans',Arial,sans-serif" fill="#222" style="stroke-width:0.1px">-1</text>
<text x="119.33" y="405.3" font-size="12.2" font-family="'Liberation Sans',Arial,sans-serif" text-anchor="end" fill="#111" style="stroke-width:0.15px">10</text>
<text x="120.23" y="400.7" font-size="7.5" font-family="'Liberation Sans',Arial,sans-serif" fill="#222" style="stroke-width:0.1px">0</text>
<text x="189.37" y="405.3" font-size="12.2" font-family="'Liberation Sans',Arial,sans-serif" text-anchor="end" fill="#111" style="stroke-width:0.15px">10</text>
<text x="190.27" y="400.7" font-size="7.5" font-family="'Liberation Sans',Arial,sans-serif" fill="#222" style="stroke-width:0.1px">1</text>
<text x="259.4" y="405.3" font-size="12.2" font-family="'Liberation Sans',Arial,sans-serif" text-anchor="end" fill="#111" style="stroke-width:0.15px">10</text>
<text x="260.3" y="400.7" font-size="7.5" font-family="'Liberation Sans',Arial,sans-serif" fill="#222" style="stroke-width:0.1px">2</text>
<text x="41.1" y="390.43" font-size="11.2" font-family="'DejaVu Sans','Liberation Sans',sans-serif" text-anchor="end" fill="#111" style="stroke-width:0.2px">0.0</text>
<text x="41.1" y="351.75" font-size="11.2" font-family="'DejaVu Sans','Liberation Sans',sans-serif" text-anchor="end" fill="#111" style="stroke-width:0.2px">0.5</text>
<text x="41.1" y="313.07" font-size="11.2" font-family="'DejaVu Sans','Liberation Sans',sans-serif" text-anchor="end" fill="#111" style="stroke-width:0.2px">1.0</text>
<text x="41.1" y="274.38" font-size="11.2" font-family="'DejaVu Sans','Liberation Sans',sans-serif" text-anchor="end" fill="#111" style="stroke-width:0.2px">1.5</text>
<text x="41.1" y="235.7" font-size="11.2" font-family="'DejaVu Sans','Liberation Sans',sans-serif" text-anchor="end" fill="#111" style="stroke-width:0.2px">2.0</text>
<text class="t" x="94.8" y="427.1" font-size="12" font-family="'DejaVu Sans','Liberation Sans',sans-serif" fill="#111" textLength="104.8" lengthAdjust="spacingAndGlyphs">Shear rate, &#947;&#775; (s<tspan dy="-4.5" font-size="7.5">-1</tspan><tspan dy="4.5">)</tspan></text>
<text x="136" y="443.6" font-size="11.5" font-family="'Liberation Serif','DejaVu Serif',serif" text-anchor="middle" fill="#111" font-weight="bold" class="ns">(c)</text>
<text x="0" y="0" font-size="12.5" font-family="'DejaVu Sans','Liberation Sans',sans-serif" text-anchor="start" fill="#111" class="t" transform="translate(17.8,327) rotate(-90)"><tspan font-family="'Liberation Serif','DejaVu Serif',serif" font-size="13" style="stroke-width:0.15px">&#952;</tspan> (s)</text>
<line x1="347.64" y1="388.7" x2="347.64" y2="386.5" stroke="#000" stroke-width="1.2" />
<line x1="347.64" y1="232" x2="347.64" y2="234.2" stroke="#000" stroke-width="1.2" />
<line x1="359.83" y1="388.7" x2="359.83" y2="386.5" stroke="#000" stroke-width="1.2" />
<line x1="359.83" y1="232" x2="359.83" y2="234.2" stroke="#000" stroke-width="1.2" />
<line x1="368.48" y1="388.7" x2="368.48" y2="386.5" stroke="#000" stroke-width="1.2" />
<line x1="368.48" y1="232" x2="368.48" y2="234.2" stroke="#000" stroke-width="1.2" />
<line x1="375.19" y1="388.7" x2="375.19" y2="386.5" stroke="#000" stroke-width="1.2" />
<line x1="375.19" y1="232" x2="375.19" y2="234.2" stroke="#000" stroke-width="1.2" />
<line x1="380.67" y1="388.7" x2="380.67" y2="386.5" stroke="#000" stroke-width="1.2" />
<line x1="380.67" y1="232" x2="380.67" y2="234.2" stroke="#000" stroke-width="1.2" />
<line x1="385.31" y1="388.7" x2="385.31" y2="386.5" stroke="#000" stroke-width="1.2" />
<line x1="385.31" y1="232" x2="385.31" y2="234.2" stroke="#000" stroke-width="1.2" />
<line x1="389.32" y1="388.7" x2="389.32" y2="386.5" stroke="#000" stroke-width="1.2" />
<line x1="389.32" y1="232" x2="389.32" y2="234.2" stroke="#000" stroke-width="1.2" />
<line x1="392.87" y1="388.7" x2="392.87" y2="386.5" stroke="#000" stroke-width="1.2" />
<line x1="392.87" y1="232" x2="392.87" y2="234.2" stroke="#000" stroke-width="1.2" />
<line x1="396.03" y1="388.7" x2="396.03" y2="385.3" stroke="#000" stroke-width="1.2" />
<line x1="396.03" y1="232" x2="396.03" y2="235.4" stroke="#000" stroke-width="1.2" />
<line x1="416.87" y1="388.7" x2="416.87" y2="386.5" stroke="#000" stroke-width="1.2" />
<line x1="416.87" y1="232" x2="416.87" y2="234.2" stroke="#000" stroke-width="1.2" />
<line x1="429.07" y1="388.7" x2="429.07" y2="386.5" stroke="#000" stroke-width="1.2" />
<line x1="429.07" y1="232" x2="429.07" y2="234.2" stroke="#000" stroke-width="1.2" />
<line x1="437.72" y1="388.7" x2="437.72" y2="386.5" stroke="#000" stroke-width="1.2" />
<line x1="437.72" y1="232" x2="437.72" y2="234.2" stroke="#000" stroke-width="1.2" />
<line x1="444.43" y1="388.7" x2="444.43" y2="386.5" stroke="#000" stroke-width="1.2" />
<line x1="444.43" y1="232" x2="444.43" y2="234.2" stroke="#000" stroke-width="1.2" />
<line x1="449.91" y1="388.7" x2="449.91" y2="386.5" stroke="#000" stroke-width="1.2" />
<line x1="449.91" y1="232" x2="449.91" y2="234.2" stroke="#000" stroke-width="1.2" />
<line x1="454.54" y1="388.7" x2="454.54" y2="386.5" stroke="#000" stroke-width="1.2" />
<line x1="454.54" y1="232" x2="454.54" y2="234.2" stroke="#000" stroke-width="1.2" />
<line x1="458.56" y1="388.7" x2="458.56" y2="386.5" stroke="#000" stroke-width="1.2" />
<line x1="458.56" y1="232" x2="458.56" y2="234.2" stroke="#000" stroke-width="1.2" />
<line x1="462.1" y1="388.7" x2="462.1" y2="386.5" stroke="#000" stroke-width="1.2" />
<line x1="462.1" y1="232" x2="462.1" y2="234.2" stroke="#000" stroke-width="1.2" />
<line x1="465.27" y1="388.7" x2="465.27" y2="385.3" stroke="#000" stroke-width="1.2" />
<line x1="465.27" y1="232" x2="465.27" y2="235.4" stroke="#000" stroke-width="1.2" />
<line x1="486.11" y1="388.7" x2="486.11" y2="386.5" stroke="#000" stroke-width="1.2" />
<line x1="486.11" y1="232" x2="486.11" y2="234.2" stroke="#000" stroke-width="1.2" />
<line x1="498.3" y1="388.7" x2="498.3" y2="386.5" stroke="#000" stroke-width="1.2" />
<line x1="498.3" y1="232" x2="498.3" y2="234.2" stroke="#000" stroke-width="1.2" />
<line x1="506.95" y1="388.7" x2="506.95" y2="386.5" stroke="#000" stroke-width="1.2" />
<line x1="506.95" y1="232" x2="506.95" y2="234.2" stroke="#000" stroke-width="1.2" />
<line x1="513.66" y1="388.7" x2="513.66" y2="386.5" stroke="#000" stroke-width="1.2" />
<line x1="513.66" y1="232" x2="513.66" y2="234.2" stroke="#000" stroke-width="1.2" />
<line x1="519.14" y1="388.7" x2="519.14" y2="386.5" stroke="#000" stroke-width="1.2" />
<line x1="519.14" y1="232" x2="519.14" y2="234.2" stroke="#000" stroke-width="1.2" />
<line x1="523.78" y1="388.7" x2="523.78" y2="386.5" stroke="#000" stroke-width="1.2" />
<line x1="523.78" y1="232" x2="523.78" y2="234.2" stroke="#000" stroke-width="1.2" />
<line x1="527.79" y1="388.7" x2="527.79" y2="386.5" stroke="#000" stroke-width="1.2" />
<line x1="527.79" y1="232" x2="527.79" y2="234.2" stroke="#000" stroke-width="1.2" />
<line x1="531.33" y1="388.7" x2="531.33" y2="386.5" stroke="#000" stroke-width="1.2" />
<line x1="531.33" y1="232" x2="531.33" y2="234.2" stroke="#000" stroke-width="1.2" />
<line x1="326.8" y1="381.24" x2="330.4" y2="381.24" stroke="#000" stroke-width="1.2" />
<line x1="534.5" y1="381.24" x2="530.9" y2="381.24" stroke="#000" stroke-width="1.2" />
<line x1="326.8" y1="373.78" x2="329" y2="373.78" stroke="#000" stroke-width="1.2" />
<line x1="534.5" y1="373.78" x2="532.3" y2="373.78" stroke="#000" stroke-width="1.2" />
<line x1="326.8" y1="366.31" x2="329" y2="366.31" stroke="#000" stroke-width="1.2" />
<line x1="534.5" y1="366.31" x2="532.3" y2="366.31" stroke="#000" stroke-width="1.2" />
<line x1="326.8" y1="358.85" x2="329" y2="358.85" stroke="#000" stroke-width="1.2" />
<line x1="534.5" y1="358.85" x2="532.3" y2="358.85" stroke="#000" stroke-width="1.2" />
<line x1="326.8" y1="351.39" x2="330.4" y2="351.39" stroke="#000" stroke-width="1.2" />
<line x1="534.5" y1="351.39" x2="530.9" y2="351.39" stroke="#000" stroke-width="1.2" />
<line x1="326.8" y1="343.93" x2="329" y2="343.93" stroke="#000" stroke-width="1.2" />
<line x1="534.5" y1="343.93" x2="532.3" y2="343.93" stroke="#000" stroke-width="1.2" />
<line x1="326.8" y1="336.47" x2="329" y2="336.47" stroke="#000" stroke-width="1.2" />
<line x1="534.5" y1="336.47" x2="532.3" y2="336.47" stroke="#000" stroke-width="1.2" />
<line x1="326.8" y1="329" x2="329" y2="329" stroke="#000" stroke-width="1.2" />
<line x1="534.5" y1="329" x2="532.3" y2="329" stroke="#000" stroke-width="1.2" />
<line x1="326.8" y1="321.54" x2="330.4" y2="321.54" stroke="#000" stroke-width="1.2" />
<line x1="534.5" y1="321.54" x2="530.9" y2="321.54" stroke="#000" stroke-width="1.2" />
<line x1="326.8" y1="314.08" x2="329" y2="314.08" stroke="#000" stroke-width="1.2" />
<line x1="534.5" y1="314.08" x2="532.3" y2="314.08" stroke="#000" stroke-width="1.2" />
<line x1="326.8" y1="306.62" x2="329" y2="306.62" stroke="#000" stroke-width="1.2" />
<line x1="534.5" y1="306.62" x2="532.3" y2="306.62" stroke="#000" stroke-width="1.2" />
<line x1="326.8" y1="299.16" x2="329" y2="299.16" stroke="#000" stroke-width="1.2" />
<line x1="534.5" y1="299.16" x2="532.3" y2="299.16" stroke="#000" stroke-width="1.2" />
<line x1="326.8" y1="291.7" x2="330.4" y2="291.7" stroke="#000" stroke-width="1.2" />
<line x1="534.5" y1="291.7" x2="530.9" y2="291.7" stroke="#000" stroke-width="1.2" />
<line x1="326.8" y1="284.23" x2="329" y2="284.23" stroke="#000" stroke-width="1.2" />
<line x1="534.5" y1="284.23" x2="532.3" y2="284.23" stroke="#000" stroke-width="1.2" />
<line x1="326.8" y1="276.77" x2="329" y2="276.77" stroke="#000" stroke-width="1.2" />
<line x1="534.5" y1="276.77" x2="532.3" y2="276.77" stroke="#000" stroke-width="1.2" />
<line x1="326.8" y1="269.31" x2="329" y2="269.31" stroke="#000" stroke-width="1.2" />
<line x1="534.5" y1="269.31" x2="532.3" y2="269.31" stroke="#000" stroke-width="1.2" />
<line x1="326.8" y1="261.85" x2="330.4" y2="261.85" stroke="#000" stroke-width="1.2" />
<line x1="534.5" y1="261.85" x2="530.9" y2="261.85" stroke="#000" stroke-width="1.2" />
<line x1="326.8" y1="254.39" x2="329" y2="254.39" stroke="#000" stroke-width="1.2" />
<line x1="534.5" y1="254.39" x2="532.3" y2="254.39" stroke="#000" stroke-width="1.2" />
<line x1="326.8" y1="246.92" x2="329" y2="246.92" stroke="#000" stroke-width="1.2" />
<line x1="534.5" y1="246.92" x2="532.3" y2="246.92" stroke="#000" stroke-width="1.2" />
<line x1="326.8" y1="239.46" x2="329" y2="239.46" stroke="#000" stroke-width="1.2" />
<line x1="534.5" y1="239.46" x2="532.3" y2="239.46" stroke="#000" stroke-width="1.2" />
<path d="M328.00,381.60 L328.69,381.60 L329.38,381.60 L330.06,381.60 L330.75,381.60 L331.44,381.60 L332.13,381.60 L332.82,381.60 L333.51,381.60 L334.19,381.60 L334.88,381.60 L335.57,381.60 L336.26,381.60 L336.95,381.60 L337.64,381.60 L338.32,381.60 L339.01,381.60 L339.70,381.60 L340.39,381.60 L341.08,381.60 L341.77,381.60 L342.45,381.60 L343.14,381.60 L343.83,381.60 L344.52,381.60 L345.21,381.60 L345.90,381.60 L346.58,381.60 L347.27,381.60 L347.96,381.60 L348.65,381.60 L349.34,381.60 L350.03,381.60 L350.71,381.60 L351.40,381.60 L352.09,381.60 L352.78,381.60 L353.47,381.60 L354.16,381.60 L354.84,381.60 L355.53,381.60 L356.22,381.60 L356.91,381.60 L357.60,381.60 L358.28,381.60 L358.97,381.60 L359.66,381.60 L360.35,381.60 L361.04,381.60 L361.73,381.60 L362.41,381.60 L363.10,381.60 L363.79,381.60 L364.48,381.59 L365.17,381.59 L365.86,381.59 L366.54,381.59 L367.23,381.59 L367.92,381.59 L368.61,381.59 L369.30,381.59 L369.99,381.58 L370.67,381.58 L371.36,381.58 L372.05,381.58 L372.74,381.58 L373.43,381.57 L374.12,381.57 L374.80,381.57 L375.49,381.57 L376.18,381.57 L376.87,381.56 L377.56,381.56 L378.25,381.56 L378.93,381.55 L379.62,381.55 L380.31,381.55 L381.00,381.54 L381.69,381.54 L382.38,381.54 L383.06,381.53 L383.75,381.53 L384.44,381.52 L385.13,381.52 L385.82,381.51 L386.51,381.51 L387.19,381.51 L387.88,381.50 L388.57,381.49 L389.26,381.49 L389.95,381.48 L390.63,381.48 L391.32,381.47 L392.01,381.47 L392.70,381.46 L393.39,381.45 L394.08,381.45 L394.76,381.44 L395.45,381.43 L396.14,381.43 L396.83,381.42 L397.52,381.41 L398.21,381.40 L398.89,381.39 L399.58,381.39 L400.27,381.38 L400.96,381.37 L401.65,381.36 L402.34,381.35 L403.02,381.34 L403.71,381.33 L404.40,381.32 L405.09,381.31 L405.78,381.30 L406.47,381.29 L407.15,381.28 L407.84,381.27 L408.53,381.25 L409.22,381.24 L409.91,381.23 L410.60,381.22 L411.28,381.20 L411.97,381.19 L412.66,381.17 L413.35,381.16 L414.04,381.14 L414.73,381.13 L415.41,381.11 L416.10,381.09 L416.79,381.07 L417.48,381.06 L418.17,381.04 L418.85,381.02 L419.54,381.00 L420.23,380.98 L420.92,380.95 L421.61,380.93 L422.30,380.91 L422.98,380.89 L423.67,380.86 L424.36,380.84 L425.05,380.81 L425.74,380.78 L426.43,380.76 L427.11,380.73 L427.80,380.70 L428.49,380.67 L429.18,380.64 L429.87,380.61 L430.56,380.58 L431.24,380.55 L431.93,380.51 L432.62,380.48 L433.31,380.44 L434.00,380.41 L434.69,380.37 L435.37,380.33 L436.06,380.29 L436.75,380.25 L437.44,380.21 L438.13,380.17 L438.82,380.12 L439.50,380.08 L440.19,380.03 L440.88,379.99 L441.57,379.94 L442.26,379.89 L442.95,379.84 L443.63,379.79 L444.32,379.74 L445.01,379.69 L445.70,379.63 L446.39,379.58 L447.07,379.52 L447.76,379.46 L448.45,379.40 L449.14,379.34 L449.83,379.28 L450.52,379.22 L451.20,379.16 L451.89,379.09 L452.58,379.02 L453.27,378.95 L453.96,378.89 L454.65,378.81 L455.33,378.74 L456.02,378.67 L456.71,378.59 L457.40,378.51 L458.09,378.43 L458.78,378.35 L459.46,378.26 L460.15,378.18 L460.84,378.09 L461.53,378.00 L462.22,377.90 L462.91,377.81 L463.59,377.71 L464.28,377.61 L464.97,377.51 L465.66,377.40 L466.35,377.29 L467.04,377.18 L467.72,377.07 L468.41,376.95 L469.10,376.83 L469.79,376.71 L470.48,376.58 L471.17,376.46 L471.85,376.32 L472.54,376.19 L473.23,376.05 L473.92,375.91 L474.61,375.77 L475.29,375.62 L475.98,375.47 L476.67,375.31 L477.36,375.15 L478.05,374.99 L478.74,374.82 L479.42,374.65 L480.11,374.48 L480.80,374.30 L481.49,374.12 L482.18,373.93 L482.87,373.74 L483.55,373.54 L484.24,373.34 L484.93,373.13 L485.62,372.92 L486.31,372.70 L487.00,372.47 L487.68,372.24 L488.37,371.99 L489.06,371.74 L489.75,371.48 L490.44,371.22 L491.13,370.94 L491.81,370.66 L492.50,370.36 L493.19,370.06 L493.88,369.74 L494.57,369.42 L495.26,369.08 L495.94,368.74 L496.63,368.38 L497.32,368.01 L498.01,367.63 L498.70,367.23 L499.39,366.82 L500.07,366.40 L500.76,365.97 L501.45,365.52 L502.14,365.06 L502.83,364.58 L503.52,364.07 L504.20,363.55 L504.89,363.01 L505.58,362.44 L506.27,361.85 L506.96,361.23 L507.64,360.59 L508.33,359.91 L509.02,359.21 L509.71,358.47 L510.40,357.70 L511.09,356.90 L511.77,356.06 L512.46,355.18 L513.15,354.26 L513.84,353.29 L514.53,352.27 L515.22,351.19 L515.90,350.05 L516.59,348.84 L517.28,347.55 L517.97,346.18 L518.66,344.72 L519.35,343.17 L520.03,341.52 L520.72,339.78 L521.41,337.94 L522.10,336.04 L522.79,334.07 L523.48,332.07 L524.16,330.03 L524.85,327.99 L525.54,325.95 L526.23,323.93 L526.92,321.94 L527.61,319.99 L528.29,318.08 L528.98,316.16 L529.67,314.22 L530.36,312.22 L531.05,310.14 L531.74,307.95 L532.42,305.62 L533.11,303.13 L533.80,300.45" fill="none" stroke="#8500a5" stroke-width="2" stroke-dasharray="5.8 1.3 1.4 1.7"/>
<path d="M328.00,380.90 L329.03,380.92 L330.07,380.94 L331.10,380.96 L332.14,380.97 L333.17,380.99 L334.21,381.01 L335.24,381.02 L336.28,381.04 L337.31,381.05 L338.35,381.06 L339.38,381.08 L340.42,381.09 L341.45,381.10 L342.49,381.11 L343.52,381.12 L344.55,381.13 L345.59,381.14 L346.62,381.15 L347.66,381.16 L348.69,381.17 L349.73,381.17 L350.76,381.18 L351.80,381.19 L352.83,381.19 L353.87,381.20 L354.90,381.20 L355.94,381.21 L356.97,381.21 L358.01,381.21 L359.04,381.21 L360.07,381.22 L361.11,381.22 L362.14,381.22 L363.18,381.22 L364.21,381.22 L365.25,381.22 L366.28,381.22 L367.32,381.22 L368.35,381.22 L369.39,381.21 L370.42,381.21 L371.46,381.21 L372.49,381.21 L373.53,381.20 L374.56,381.20 L375.59,381.19 L376.63,381.18 L377.66,381.18 L378.70,381.17 L379.73,381.16 L380.77,381.16 L381.80,381.15 L382.84,381.14 L383.87,381.13 L384.91,381.12 L385.94,381.10 L386.98,381.09 L388.01,381.08 L389.05,381.07 L390.08,381.05 L391.12,381.04 L392.15,381.02 L393.18,381.00 L394.22,380.99 L395.25,380.97 L396.29,380.95 L397.32,380.93 L398.36,380.91 L399.39,380.89 L400.43,380.86 L401.46,380.84 L402.50,380.81 L403.53,380.79 L404.57,380.76 L405.60,380.73 L406.64,380.70 L407.67,380.67 L408.70,380.64 L409.74,380.60 L410.77,380.57 L411.81,380.53 L412.84,380.49 L413.88,380.45 L414.91,380.41 L415.95,380.36 L416.98,380.32 L418.02,380.27 L419.05,380.22 L420.09,380.16 L421.12,380.11 L422.16,380.05 L423.19,379.99 L424.22,379.93 L425.26,379.87 L426.29,379.80 L427.33,379.73 L428.36,379.66 L429.40,379.58 L430.43,379.50 L431.47,379.41 L432.50,379.33 L433.54,379.24 L434.57,379.14 L435.61,379.04 L436.64,378.94 L437.68,378.83 L438.71,378.72 L439.74,378.60 L440.78,378.48 L441.81,378.35 L442.85,378.21 L443.88,378.07 L444.92,377.93 L445.95,377.77 L446.99,377.61 L448.02,377.44 L449.06,377.27 L450.09,377.09 L451.13,376.89 L452.16,376.69 L453.20,376.48 L454.23,376.27 L455.26,376.04 L456.30,375.80 L457.33,375.55 L458.37,375.29 L459.40,375.01 L460.44,374.73 L461.47,374.43 L462.51,374.11 L463.54,373.78 L464.58,373.44 L465.61,373.08 L466.65,372.71 L467.68,372.32 L468.72,371.90 L469.75,371.48 L470.78,371.03 L471.82,370.56 L472.85,370.06 L473.89,369.55 L474.92,369.01 L475.96,368.45 L476.99,367.86 L478.03,367.24 L479.06,366.60 L480.10,365.93 L481.13,365.22 L482.17,364.49 L483.20,363.72 L484.24,362.91 L485.27,362.07 L486.31,361.20 L487.34,360.28 L488.37,359.32 L489.41,358.32 L490.44,357.28 L491.48,356.18 L492.51,355.05 L493.55,353.86 L494.58,352.62 L495.62,351.33 L496.65,349.98 L497.69,348.57 L498.72,347.11 L499.76,345.58 L500.79,343.99 L501.83,342.33 L502.86,340.61 L503.89,338.81 L504.93,336.95 L505.96,335.01 L507.00,332.99 L508.03,330.89 L509.07,328.72 L510.10,326.46 L511.14,324.11 L512.17,321.68 L513.21,319.15 L514.24,316.54 L515.28,313.83 L516.31,311.03 L517.35,308.13 L518.38,305.13 L519.41,302.03 L520.45,298.84 L521.48,295.53 L522.52,292.13 L523.55,288.62 L524.59,285.00 L525.62,281.28 L526.66,277.45 L527.69,273.52 L528.73,269.48 L529.76,265.33 L530.80,261.08 L531.83,256.73 L532.87,252.28 L533.90,247.72" fill="none" stroke="#6f8f00" stroke-width="1.8" stroke-dasharray="1.25 1.25"/>
<path d="M328.00,380.08 L329.03,380.12 L330.07,380.15 L331.10,380.18 L332.14,380.21 L333.17,380.24 L334.21,380.26 L335.24,380.29 L336.27,380.31 L337.31,380.33 L338.34,380.35 L339.38,380.36 L340.41,380.38 L341.44,380.39 L342.48,380.40 L343.51,380.41 L344.55,380.42 L345.58,380.43 L346.62,380.43 L347.65,380.44 L348.68,380.44 L349.72,380.45 L350.75,380.45 L351.79,380.45 L352.82,380.45 L353.85,380.44 L354.89,380.44 L355.92,380.44 L356.96,380.43 L357.99,380.43 L359.03,380.42 L360.06,380.41 L361.09,380.40 L362.13,380.39 L363.16,380.38 L364.20,380.37 L365.23,380.36 L366.26,380.34 L367.30,380.33 L368.33,380.31 L369.37,380.30 L370.40,380.28 L371.44,380.26 L372.47,380.24 L373.50,380.22 L374.54,380.20 L375.57,380.18 L376.61,380.15 L377.64,380.13 L378.67,380.10 L379.71,380.07 L380.74,380.05 L381.78,380.02 L382.81,379.99 L383.85,379.96 L384.88,379.92 L385.91,379.89 L386.95,379.85 L387.98,379.82 L389.02,379.78 L390.05,379.74 L391.08,379.70 L392.12,379.66 L393.15,379.62 L394.19,379.58 L395.22,379.53 L396.26,379.49 L397.29,379.44 L398.32,379.39 L399.36,379.34 L400.39,379.29 L401.43,379.24 L402.46,379.18 L403.49,379.13 L404.53,379.07 L405.56,379.01 L406.60,378.95 L407.63,378.89 L408.67,378.82 L409.70,378.76 L410.73,378.69 L411.77,378.62 L412.80,378.55 L413.84,378.47 L414.87,378.40 L415.90,378.32 L416.94,378.24 L417.97,378.16 L419.01,378.08 L420.04,378.00 L421.08,377.91 L422.11,377.82 L423.14,377.73 L424.18,377.64 L425.21,377.54 L426.25,377.44 L427.28,377.34 L428.31,377.24 L429.35,377.14 L430.38,377.03 L431.42,376.92 L432.45,376.81 L433.49,376.69 L434.52,376.58 L435.55,376.46 L436.59,376.33 L437.62,376.21 L438.66,376.08 L439.69,375.95 L440.72,375.81 L441.76,375.67 L442.79,375.53 L443.83,375.39 L444.86,375.24 L445.90,375.09 L446.93,374.94 L447.96,374.78 L449.00,374.62 L450.03,374.46 L451.07,374.29 L452.10,374.12 L453.13,373.95 L454.17,373.77 L455.20,373.58 L456.24,373.40 L457.27,373.21 L458.31,373.01 L459.34,372.81 L460.37,372.61 L461.41,372.40 L462.44,372.19 L463.48,371.97 L464.51,371.75 L465.54,371.52 L466.58,371.29 L467.61,371.06 L468.65,370.81 L469.68,370.57 L470.72,370.31 L471.75,370.05 L472.78,369.79 L473.82,369.52 L474.85,369.24 L475.89,368.96 L476.92,368.67 L477.95,368.37 L478.99,368.07 L480.02,367.76 L481.06,367.45 L482.09,367.12 L483.13,366.79 L484.16,366.45 L485.19,366.10 L486.23,365.75 L487.26,365.38 L488.30,365.01 L489.33,364.62 L490.36,364.23 L491.40,363.83 L492.43,363.42 L493.47,363.00 L494.50,362.56 L495.54,362.12 L496.57,361.66 L497.60,361.19 L498.64,360.71 L499.67,360.22 L500.71,359.71 L501.74,359.19 L502.77,358.66 L503.81,358.11 L504.84,357.54 L505.88,356.96 L506.91,356.36 L507.95,355.74 L508.98,355.11 L510.01,354.46 L511.05,353.78 L512.08,353.09 L513.12,352.38 L514.15,351.64 L515.18,350.88 L516.22,350.09 L517.25,349.28 L518.29,348.45 L519.32,347.58 L520.36,346.69 L521.39,345.77 L522.42,344.81 L523.46,343.83 L524.49,342.80 L525.53,341.75 L526.56,340.65 L527.59,339.51 L528.63,338.33 L529.66,337.11 L530.70,335.84 L531.73,334.53 L532.77,333.16 L533.80,331.74" fill="none" stroke="#ff0000" stroke-width="2" stroke-dasharray="3.8 2.05"/>
<path d="M328.00,379.52 L329.03,379.55 L330.07,379.59 L331.10,379.62 L332.14,379.65 L333.17,379.67 L334.21,379.70 L335.24,379.72 L336.27,379.75 L337.31,379.77 L338.34,379.79 L339.38,379.80 L340.41,379.82 L341.44,379.84 L342.48,379.85 L343.51,379.86 L344.55,379.87 L345.58,379.88 L346.62,379.89 L347.65,379.90 L348.68,379.90 L349.72,379.91 L350.75,379.91 L351.79,379.91 L352.82,379.91 L353.85,379.91 L354.89,379.91 L355.92,379.91 L356.96,379.91 L357.99,379.90 L359.03,379.90 L360.06,379.89 L361.09,379.88 L362.13,379.87 L363.16,379.86 L364.20,379.85 L365.23,379.84 L366.26,379.83 L367.30,379.81 L368.33,379.80 L369.37,379.78 L370.40,379.76 L371.44,379.75 L372.47,379.73 L373.50,379.70 L374.54,379.68 L375.57,379.66 L376.61,379.63 L377.64,379.61 L378.67,379.58 L379.71,379.55 L380.74,379.52 L381.78,379.49 L382.81,379.46 L383.85,379.42 L384.88,379.39 L385.91,379.35 L386.95,379.31 L387.98,379.27 L389.02,379.23 L390.05,379.19 L391.08,379.14 L392.12,379.10 L393.15,379.05 L394.19,379.00 L395.22,378.95 L396.26,378.89 L397.29,378.84 L398.32,378.78 L399.36,378.72 L400.39,378.66 L401.43,378.60 L402.46,378.53 L403.49,378.46 L404.53,378.39 L405.56,378.32 L406.60,378.25 L407.63,378.17 L408.67,378.09 L409.70,378.01 L410.73,377.92 L411.77,377.84 L412.80,377.75 L413.84,377.65 L414.87,377.56 L415.90,377.46 L416.94,377.36 L417.97,377.25 L419.01,377.14 L420.04,377.03 L421.08,376.92 L422.11,376.80 L423.14,376.67 L424.18,376.55 L425.21,376.42 L426.25,376.28 L427.28,376.15 L428.31,376.00 L429.35,375.86 L430.38,375.70 L431.42,375.55 L432.45,375.39 L433.49,375.22 L434.52,375.05 L435.55,374.88 L436.59,374.70 L437.62,374.51 L438.66,374.32 L439.69,374.12 L440.72,373.92 L441.76,373.71 L442.79,373.49 L443.83,373.27 L444.86,373.05 L445.90,372.81 L446.93,372.57 L447.96,372.32 L449.00,372.07 L450.03,371.80 L451.07,371.53 L452.10,371.26 L453.13,370.97 L454.17,370.68 L455.20,370.38 L456.24,370.07 L457.27,369.75 L458.31,369.42 L459.34,369.08 L460.37,368.74 L461.41,368.38 L462.44,368.02 L463.48,367.65 L464.51,367.26 L465.54,366.87 L466.58,366.46 L467.61,366.05 L468.65,365.62 L469.68,365.19 L470.72,364.74 L471.75,364.28 L472.78,363.81 L473.82,363.32 L474.85,362.83 L475.89,362.32 L476.92,361.80 L477.95,361.27 L478.99,360.73 L480.02,360.17 L481.06,359.60 L482.09,359.01 L483.13,358.42 L484.16,357.81 L485.19,357.18 L486.23,356.54 L487.26,355.89 L488.30,355.22 L489.33,354.54 L490.36,353.85 L491.40,353.14 L492.43,352.42 L493.47,351.68 L494.50,350.92 L495.54,350.16 L496.57,349.37 L497.60,348.58 L498.64,347.76 L499.67,346.94 L500.71,346.10 L501.74,345.24 L502.77,344.37 L503.81,343.49 L504.84,342.59 L505.88,341.67 L506.91,340.75 L507.95,339.80 L508.98,338.85 L510.01,337.88 L511.05,336.90 L512.08,335.91 L513.12,334.90 L514.15,333.88 L515.18,332.85 L516.22,331.81 L517.25,330.75 L518.29,329.69 L519.32,328.61 L520.36,327.53 L521.39,326.44 L522.42,325.33 L523.46,324.23 L524.49,323.11 L525.53,321.98 L526.56,320.85 L527.59,319.72 L528.63,318.58 L529.66,317.44 L530.70,316.29 L531.73,315.14 L532.77,314.00 L533.80,312.85" fill="none" stroke="#0000ff" stroke-width="2"/>
<line x1="336.2" y1="248.1" x2="360.3" y2="248.1" stroke="#0000ff" stroke-width="2" />
<line x1="336.1" y1="265.2" x2="357.5" y2="265.2" stroke="#ff0000" stroke-width="2" stroke-dasharray="3.8 2.05"/>
<line x1="336.1" y1="282.2" x2="359.8" y2="282.2" stroke="#6f8f00" stroke-width="1.8" stroke-dasharray="1.05 1.05"/>
<line x1="336.1" y1="299" x2="360.6" y2="299" stroke="#8500a5" stroke-width="2" stroke-dasharray="5.8 1.3 1.4 1.7"/>
<text x="366.4" y="251.6" font-size="7.6" font-family="'DejaVu Sans','Liberation Sans',sans-serif" text-anchor="start" fill="#111" style="stroke-width:0.55px">&#964;</text>
<text x="371" y="255.1" font-size="6.5" font-family="'DejaVu Sans','Liberation Sans',sans-serif" text-anchor="start" fill="#111" textLength="24" lengthAdjust="spacingAndGlyphs" fill-opacity="0.85">xy,max</text>
<text x="366.4" y="268.65" font-size="7.6" font-family="'DejaVu Sans','Liberation Sans',sans-serif" text-anchor="start" fill="#111" style="stroke-width:0.55px">&#964;</text>
<text x="371" y="272.15" font-size="6.5" font-family="'DejaVu Sans','Liberation Sans',sans-serif" text-anchor="start" fill="#111" textLength="23.5" lengthAdjust="spacingAndGlyphs" fill-opacity="0.85">xx,max</text>
<text x="366.4" y="285.7" font-size="7.6" font-family="'DejaVu Sans','Liberation Sans',sans-serif" text-anchor="start" fill="#111" style="stroke-width:0.55px">&#964;</text>
<text x="371" y="289.2" font-size="6.5" font-family="'DejaVu Sans','Liberation Sans',sans-serif" text-anchor="start" fill="#111" textLength="15.5" lengthAdjust="spacingAndGlyphs" fill-opacity="0.85">xy,st</text>
<text x="366.4" y="302.75" font-size="7.6" font-family="'DejaVu Sans','Liberation Sans',sans-serif" text-anchor="start" fill="#111" style="stroke-width:0.55px">&#964;</text>
<text x="371" y="306.25" font-size="6.5" font-family="'DejaVu Sans','Liberation Sans',sans-serif" text-anchor="start" fill="#111" textLength="15.5" lengthAdjust="spacingAndGlyphs" fill-opacity="0.85">xx,st</text>
<rect x="326.8" y="232" width="207.7" height="156.7" fill="none" stroke="#000" stroke-width="2"/>
<text x="330.2" y="402.3" font-size="12.2" font-family="'Liberation Sans',Arial,sans-serif" text-anchor="end" fill="#111" style="stroke-width:0.15px">10</text>
<text x="331.4" y="397.7" font-size="7.5" font-family="'Liberation Sans',Arial,sans-serif" fill="#222" style="stroke-width:0.1px">-1</text>
<text x="401.23" y="402.3" font-size="12.2" font-family="'Liberation Sans',Arial,sans-serif" text-anchor="end" fill="#111" style="stroke-width:0.15px">10</text>
<text x="402.13" y="397.7" font-size="7.5" font-family="'Liberation Sans',Arial,sans-serif" fill="#222" style="stroke-width:0.1px">0</text>
<text x="470.47" y="402.3" font-size="12.2" font-family="'Liberation Sans',Arial,sans-serif" text-anchor="end" fill="#111" style="stroke-width:0.15px">10</text>
<text x="471.37" y="397.7" font-size="7.5" font-family="'Liberation Sans',Arial,sans-serif" fill="#222" style="stroke-width:0.1px">1</text>
<text x="539.7" y="402.3" font-size="12.2" font-family="'Liberation Sans',Arial,sans-serif" text-anchor="end" fill="#111" style="stroke-width:0.15px">10</text>
<text x="540.6" y="397.7" font-size="7.5" font-family="'Liberation Sans',Arial,sans-serif" fill="#222" style="stroke-width:0.1px">2</text>
<text x="323.1" y="384.54" font-size="10.4" font-family="'DejaVu Sans','Liberation Sans',sans-serif" text-anchor="end" fill="#111" style="stroke-width:0.2px">0.0</text>
<text x="323.1" y="354.69" font-size="10.4" font-family="'DejaVu Sans','Liberation Sans',sans-serif" text-anchor="end" fill="#111" style="stroke-width:0.2px">0.2</text>
<text x="323.1" y="324.84" font-size="10.4" font-family="'DejaVu Sans','Liberation Sans',sans-serif" text-anchor="end" fill="#111" style="stroke-width:0.2px">0.4</text>
<text x="323.1" y="295" font-size="10.4" font-family="'DejaVu Sans','Liberation Sans',sans-serif" text-anchor="end" fill="#111" style="stroke-width:0.2px">0.6</text>
<text x="323.1" y="265.15" font-size="10.4" font-family="'DejaVu Sans','Liberation Sans',sans-serif" text-anchor="end" fill="#111" style="stroke-width:0.2px">0.8</text>
<text x="323.1" y="235.3" font-size="10.4" font-family="'DejaVu Sans','Liberation Sans',sans-serif" text-anchor="end" fill="#111" style="stroke-width:0.2px">1.0</text>
<text class="t" x="377" y="424.2" font-size="12" font-family="'DejaVu Sans','Liberation Sans',sans-serif" fill="#111" textLength="103" lengthAdjust="spacingAndGlyphs">Shear rate, &#947;&#775; (s<tspan dy="-4.5" font-size="7.5">-1</tspan><tspan dy="4.5">)</tspan></text>
<text x="415.8" y="443.6" font-size="11.5" font-family="'Liberation Serif','DejaVu Serif',serif" text-anchor="middle" fill="#111" font-weight="bold" class="ns">(d)</text>
<text x="0" y="0" font-size="12" font-family="'DejaVu Sans','Liberation Sans',sans-serif" text-anchor="start" fill="#111" class="t" transform="translate(297.8,341.1) rotate(-90)">Stress (Pa)</text>
</svg></body></html>
